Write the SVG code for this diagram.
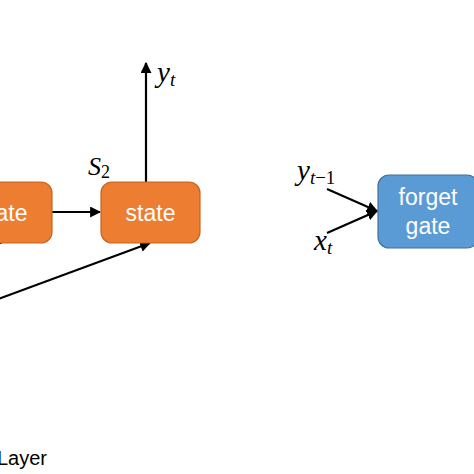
<svg xmlns="http://www.w3.org/2000/svg" width="474" height="474" viewBox="0 0 474 474">
<defs>
<style>
.orange{fill:#ED7D31;stroke:#C5651F;stroke-width:1.2}
.blue{fill:#5B9BD5;stroke:#41719C;stroke-width:1.2}
.lbl{font-family:"Liberation Sans",Arial,sans-serif;font-size:23px;fill:#fff;text-anchor:middle}
.math{font-family:"Liberation Serif","Times New Roman",serif;font-style:italic;fill:#000}
.edge{stroke:#000;stroke-width:2.2;fill:none}
</style>
<marker id="ah" viewBox="0 0 10 10" refX="9" refY="5" markerWidth="5" markerHeight="5" orient="auto" markerUnits="strokeWidth">
<path d="M0,0 L10,5 L0,10 z" fill="#000"/>
</marker>
</defs>
<rect width="474" height="474" fill="#fff"/>
<g id="connectors">
<line class="edge" x1="52" y1="212" x2="100" y2="212" marker-end="url(#ah)"/>
<line class="edge" x1="146" y1="182" x2="146" y2="63" marker-end="url(#ah)"/>
<line class="edge" x1="-10" y1="302" x2="150" y2="243" marker-end="url(#ah)"/>
<line class="edge" x1="-6" y1="246" x2="2" y2="242"/>
<line class="edge" x1="327" y1="189" x2="377" y2="211" marker-end="url(#ah)"/>
<line class="edge" x1="327" y1="233" x2="377" y2="211" marker-end="url(#ah)"/>
</g>
<g id="state1">
<rect class="orange" x="-47" y="182" width="99" height="61" rx="11"/>
<text class="lbl" x="2.5" y="221">state</text>
</g>
<g id="state2">
<rect class="orange" x="101" y="182" width="99" height="61" rx="11"/>
<text class="lbl" x="150.5" y="221">state</text>
</g>
<g id="forget-gate">
<rect class="blue" x="378" y="175" width="100" height="73" rx="11"/>
<text class="lbl" x="428" y="205">forget</text>
<text class="lbl" x="428" y="234">gate</text>
</g>
<g id="labels">
<text class="math" x="157" y="82" font-size="29">y<tspan font-size="19" dy="4">t</tspan></text>
<text class="math" x="88" y="175" font-size="26">S<tspan font-size="18" font-style="normal" dy="3">2</tspan></text>
<text class="math" x="297" y="180" font-size="29">y<tspan font-size="19" dy="4">t<tspan font-style="normal">−1</tspan></tspan></text>
<text class="math" x="314" y="250" font-size="29">x<tspan font-size="19" dy="4">t</tspan></text>
<text x="47" y="465" font-family="'Liberation Sans',Arial,sans-serif" font-size="20" text-anchor="end" fill="#000">Layer</text>
</g>
</svg>
